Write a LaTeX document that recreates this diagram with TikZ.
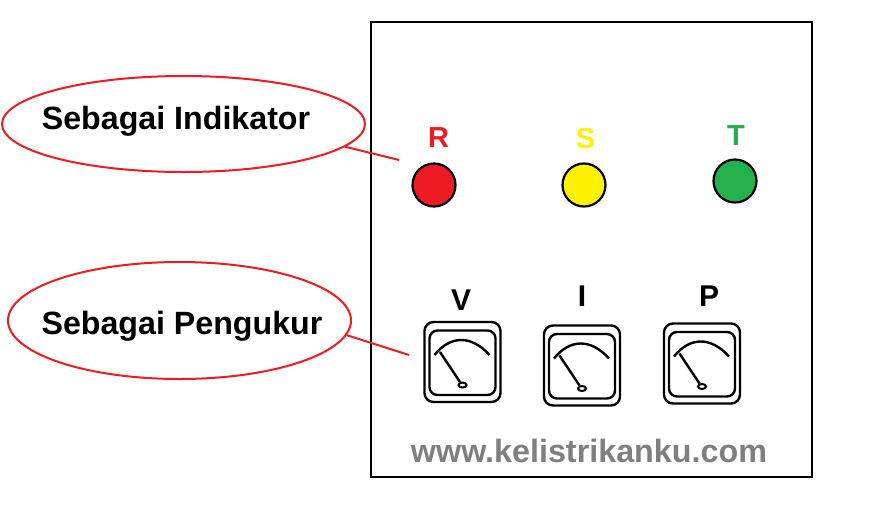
\documentclass[tikz,border=0pt]{standalone}
\usepackage{fontspec}
\setmainfont{Liberation Sans}
\usetikzlibrary{shapes.geometric}
\definecolor{lampred}{RGB}{237,28,36}
\definecolor{lampyellow}{RGB}{255,242,0}
\definecolor{lampgreen}{RGB}{34,177,76}
\definecolor{webgray}{RGB}{127,127,127}
\tikzset{
  callout/.style={draw=lampred,line width=2pt,ellipse,inner sep=0pt},
  callouttext/.style={font=\fontsize{32.2}{32}\selectfont\bfseries,text=black,inner sep=0pt},
  lamp/.style={draw=black,line width=2.2pt,circle,minimum size=43pt,inner sep=0pt},
  lamplabel/.style={font=\fontsize{29}{29}\selectfont\bfseries,inner sep=0pt},
  meterlabel/.style={font=\fontsize{30}{30}\selectfont\bfseries,text=black,inner sep=0pt},
  pics/meter/.style={code={
    \draw[line width=2.4pt,rounded corners=9pt] (-38,-40) rectangle (38,40);
    \draw[line width=2.4pt,rounded corners=8pt] (-33,-31.5) rectangle (33,33);
    \draw[line width=2.4pt] (-28,-7) .. controls (-12,-27) and (9,-27) .. (27,-7);
    \draw[line width=2.4pt] (-22.5,-10) -- (-2.5,20);
    \draw[line width=2pt,fill=white] (0,23) ellipse (4 and 2.5);
  }}
}
\begin{document}
\begin{tikzpicture}[x=1pt,y=-1pt]
\useasboundingbox (0,0) rectangle (886,523);
\node[draw,line width=2.2pt,minimum width=441pt,minimum height=455pt,inner sep=0pt] (panel) at (591.5,249.5) {};
% callouts
\node[callout,minimum width=363pt,minimum height=96pt] (indikator) at (183.5,124) {};
\node[callout,minimum width=343pt,minimum height=117pt] (pengukur) at (179.5,320.5) {};
\node[callouttext] (indikatortext) at (176,121) {Sebagai Indikator};
\node[callouttext] (pengukurtext) at (182,326) {Sebagai Pengukur};
\coordinate (indikatorend) at (399,160);
\coordinate (pengukurend) at (409,355);
\draw[lampred,line width=2pt] (indikator.-8) -- (indikatorend);
\draw[lampred,line width=2pt] (pengukur.-5) -- (pengukurend);
% lamps
\node[lamp,fill=lampred] (lampr) at (434,185) {};
\node[lamp,fill=lampyellow] (lamps) at (584,185) {};
\node[lamp,fill=lampgreen] (lampt) at (735,181) {};
\node[lamplabel,text=lampred] (labelr) at (438.5,137.5) {R};
\node[lamplabel,text=lampyellow] (labels) at (585.5,139) {S};
\node[lamplabel,text=lampgreen] (labelt) at (736,135.5) {T};
% meters
\pic at (462.5,362) {meter};
\pic at (582,365.5) {meter};
\pic at (702,363.5) {meter};
\node[meterlabel] (labelv) at (461,300) {V};
\node[meterlabel] (labeli) at (582,296) {I};
\node[meterlabel] (labelp) at (709,296) {P};
\node[font=\fontsize{32.3}{32}\selectfont\bfseries,text=webgray,inner sep=0pt] (web) at (589,451) {www.kelistrikanku.com};
\end{tikzpicture}
\end{document}
